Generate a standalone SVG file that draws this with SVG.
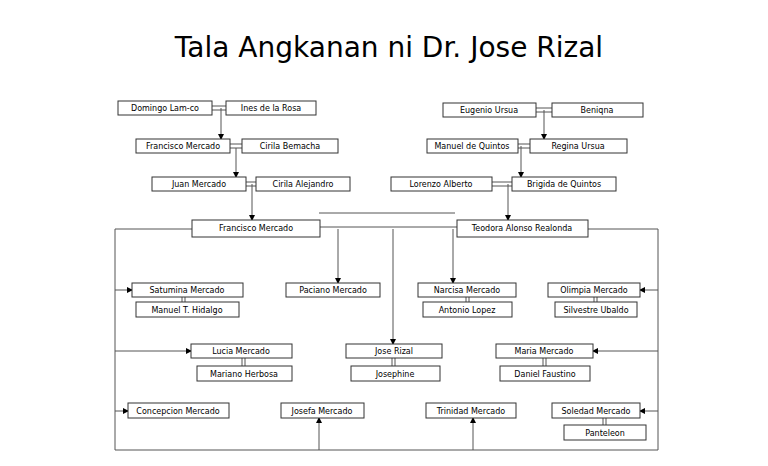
<svg xmlns="http://www.w3.org/2000/svg" width="768" height="466" viewBox="0 0 768 466">
<defs><marker id="a" markerWidth="6" markerHeight="6" refX="5" refY="3" orient="auto" markerUnits="userSpaceOnUse"><path d="M0,0L6,3L0,6z" fill="#000"/></marker></defs>
<style>
rect{fill:#fff;stroke:#333;stroke-width:1}
text{font-family:"DejaVu Sans",sans-serif;font-size:8px;text-anchor:middle;fill:#000}
.t{font-size:28px}
line,polyline{stroke:#555;stroke-width:1;fill:none}
.ar{marker-end:url(#a)}
</style>
<rect x="0" y="0" width="768" height="466" style="fill:#fff;stroke:none"/>
<text class="t" x="389" y="57">Tala Angkanan ni Dr. Jose Rizal</text>
<g id="connectors">
<line x1="212" y1="106" x2="226" y2="106"/><line x1="212" y1="110" x2="226" y2="110"/>
<line x1="230" y1="144" x2="242" y2="144"/><line x1="230" y1="148" x2="242" y2="148"/>
<line x1="246" y1="182" x2="256" y2="182"/><line x1="246" y1="186" x2="256" y2="186"/>
<line x1="536" y1="108" x2="552" y2="108"/><line x1="536" y1="112" x2="552" y2="112"/>
<line x1="518" y1="144" x2="530" y2="144"/><line x1="518" y1="148" x2="530" y2="148"/>
<line x1="492" y1="182" x2="512" y2="182"/><line x1="492" y1="186" x2="512" y2="186"/>
<line class="ar" x1="221" y1="108" x2="221" y2="139"/>
<line class="ar" x1="236" y1="148" x2="236" y2="177"/>
<line class="ar" x1="252" y1="184" x2="252" y2="220"/>
<line class="ar" x1="544" y1="110" x2="544" y2="139"/>
<line class="ar" x1="521" y1="146" x2="521" y2="177"/>
<line class="ar" x1="508" y1="184" x2="508" y2="220"/>
<line x1="319" y1="213" x2="455" y2="213"/>
<line x1="320" y1="227" x2="457" y2="227"/>
<polyline points="192,229 115,229 115,450 658,450 658,229 588,229"/>
<line class="ar" x1="338" y1="229" x2="338" y2="283"/>
<line class="ar" x1="393" y1="229" x2="393" y2="344"/>
<line class="ar" x1="453" y1="229" x2="453" y2="283"/>
<line class="ar" x1="115" y1="290" x2="132" y2="290"/>
<line class="ar" x1="115" y1="351" x2="191" y2="351"/>
<line class="ar" x1="115" y1="411" x2="128" y2="411"/>
<line class="ar" x1="658" y1="290" x2="640" y2="290"/>
<line class="ar" x1="658" y1="351" x2="593" y2="351"/>
<line class="ar" x1="658" y1="411" x2="640" y2="411"/>
<line class="ar" x1="319" y1="450" x2="319" y2="418"/>
<line class="ar" x1="473" y1="450" x2="473" y2="418"/>
<line x1="182" y1="297" x2="182" y2="302"/><line x1="185" y1="297" x2="185" y2="302"/>
<line x1="242" y1="358" x2="242" y2="366"/><line x1="245" y1="358" x2="245" y2="366"/>
<line x1="392" y1="358" x2="392" y2="366"/><line x1="395" y1="358" x2="395" y2="366"/>
<line x1="466" y1="297" x2="466" y2="302"/><line x1="469" y1="297" x2="469" y2="302"/>
<line x1="594" y1="297" x2="594" y2="302"/><line x1="597" y1="297" x2="597" y2="302"/>
<line x1="543" y1="358" x2="543" y2="366"/><line x1="546" y1="358" x2="546" y2="366"/>
<line x1="603" y1="418" x2="603" y2="425"/><line x1="606" y1="418" x2="606" y2="425"/>
</g>
<g id="n1"><rect x="118" y="101" width="94" height="14"/><text x="165" y="111">Domingo Lam-co</text></g>
<g id="n2"><rect x="226" y="101" width="90" height="14"/><text x="271" y="111">Ines de la Rosa</text></g>
<g id="n3"><rect x="136" y="139" width="94" height="14"/><text x="183" y="149">Francisco Mercado</text></g>
<g id="n4"><rect x="242" y="139" width="96" height="14"/><text x="290" y="149">Cirila Bemacha</text></g>
<g id="n5"><rect x="152" y="177" width="94" height="14"/><text x="199" y="187">Juan Mercado</text></g>
<g id="n6"><rect x="256" y="177" width="94" height="14"/><text x="303" y="187">Cirila Alejandro</text></g>
<g id="n7"><rect x="443" y="103" width="93" height="14"/><text x="489" y="113">Eugenio Ursua</text></g>
<g id="n8"><rect x="552" y="103" width="91" height="14"/><text x="597" y="113">Beniqna</text></g>
<g id="n9"><rect x="427" y="139" width="91" height="14"/><text x="472" y="149">Manuel de Quintos</text></g>
<g id="n10"><rect x="530" y="139" width="97" height="14"/><text x="578" y="149">Regina Ursua</text></g>
<g id="n11"><rect x="391" y="177" width="101" height="14"/><text x="441" y="187">Lorenzo Alberto</text></g>
<g id="n12"><rect x="512" y="177" width="104" height="14"/><text x="564" y="187">Brigida de Quintos</text></g>
<g id="n13"><rect x="192" y="220" width="128" height="17"/><text x="256" y="231">Francisco Mercado</text></g>
<g id="n14"><rect x="457" y="220" width="131" height="17"/><text x="522" y="231">Teodora Alonso Realonda</text></g>
<g id="n15"><rect x="132" y="283" width="111" height="14"/><text x="187" y="293">Satumina Mercado</text></g>
<g id="n16"><rect x="136" y="302" width="103" height="15"/><text x="187" y="313">Manuel T. Hidalgo</text></g>
<g id="n17"><rect x="286" y="283" width="94" height="14"/><text x="333" y="293">Paciano Mercado</text></g>
<g id="n18"><rect x="418" y="283" width="98" height="14"/><text x="467" y="293">Narcisa Mercado</text></g>
<g id="n19"><rect x="423" y="302" width="89" height="15"/><text x="467" y="313">Antonio Lopez</text></g>
<g id="n20"><rect x="548" y="283" width="92" height="14"/><text x="594" y="293">Olimpia Mercado</text></g>
<g id="n21"><rect x="555" y="302" width="82" height="15"/><text x="596" y="313">Silvestre Ubaldo</text></g>
<g id="n22"><rect x="191" y="344" width="101" height="14"/><text x="241" y="354">Lucia Mercado</text></g>
<g id="n23"><rect x="197" y="366" width="95" height="15"/><text x="244" y="377">Mariano Herbosa</text></g>
<g id="n24"><rect x="346" y="344" width="96" height="14"/><text x="394" y="354">Jose Rizal</text></g>
<g id="n25"><rect x="351" y="366" width="89" height="15"/><text x="395" y="377">Josephine</text></g>
<g id="n26"><rect x="496" y="344" width="97" height="14"/><text x="544" y="354">Maria Mercado</text></g>
<g id="n27"><rect x="500" y="366" width="90" height="15"/><text x="545" y="377">Daniel Faustino</text></g>
<g id="n28"><rect x="128" y="403" width="101" height="15"/><text x="178" y="414">Concepcion Mercado</text></g>
<g id="n29"><rect x="281" y="403" width="83" height="15"/><text x="322" y="414">Josefa Mercado</text></g>
<g id="n30"><rect x="426" y="403" width="90" height="15"/><text x="471" y="414">Trinidad Mercado</text></g>
<g id="n31"><rect x="552" y="403" width="88" height="15"/><text x="596" y="414">Soledad Mercado</text></g>
<g id="n32"><rect x="564" y="425" width="82" height="15"/><text x="605" y="436">Panteleon</text></g>
</svg>
